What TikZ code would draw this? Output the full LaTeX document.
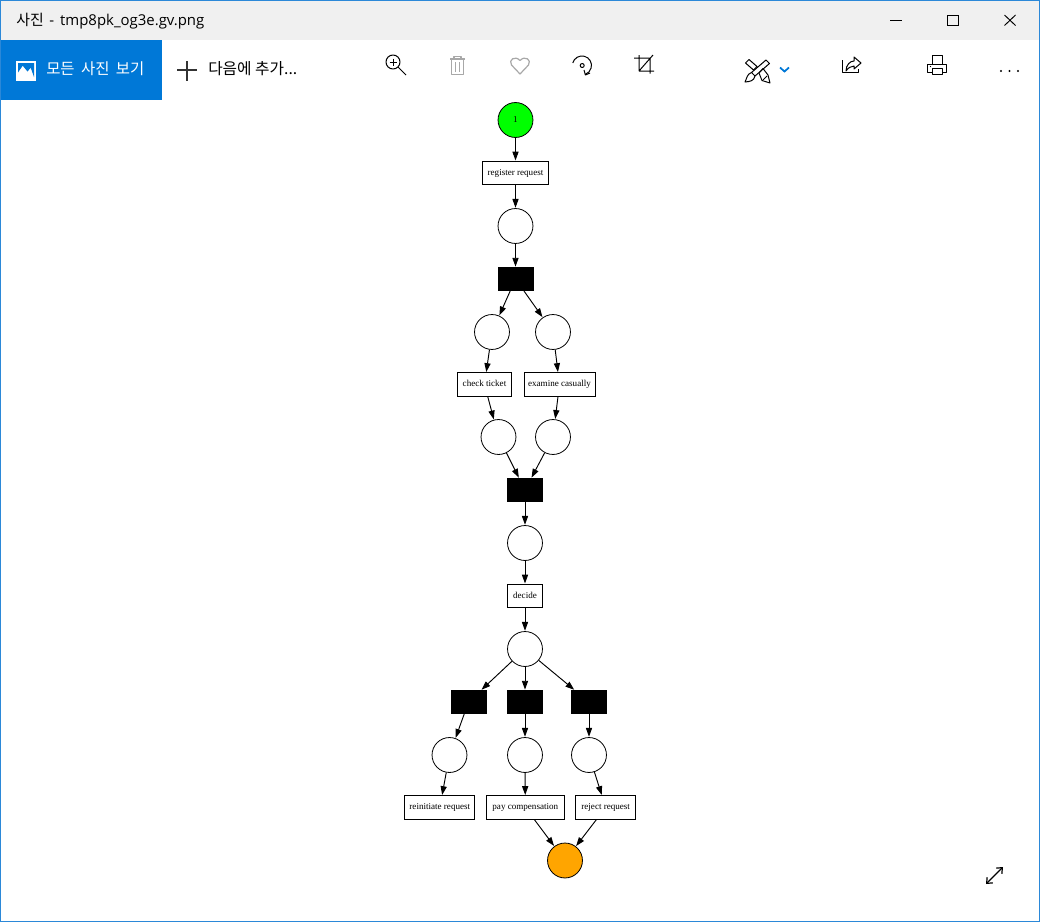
\documentclass[tikz,border=0pt]{standalone}
\usepackage{fontspec}
\setmainfont{Liberation Serif}
\newfontfamily\uifont{Open Sans}
\newfontfamily\cjk{Noto Sans CJK KR}
\usetikzlibrary{arrows.meta}
\definecolor{titlegray}{HTML}{F0F0F0}
\definecolor{winblue}{HTML}{2B88D8}
\definecolor{btnblue}{HTML}{0078D7}
\definecolor{placegreen}{HTML}{00FF00}
\definecolor{placeorange}{HTML}{FFA500}
\definecolor{icongray}{HTML}{A8A8A8}
\definecolor{chevblue}{HTML}{0078D7}
\tikzset{
  place/.style={circle,draw=black,line width=0.6pt,fill=white,minimum size=26.2pt,inner sep=0pt,font=\fontsize{6.8}{7}\selectfont},
  task/.style={rectangle,draw=black,line width=0.6pt,fill=white,minimum height=17.6pt,inner sep=0pt,text height=5pt,text depth=2pt,font=\fontsize{6.8}{7}\selectfont},
  silent/.style={rectangle,draw=black,fill=black,minimum width=26.2pt,minimum height=17.6pt,inner sep=0pt},
  arc/.style={draw=black,line width=0.7pt,-{Triangle[length=6.6pt,width=4.6pt]},shorten >=0.3pt},
  icon/.style={draw=black,line width=0.75pt,line join=round},
  greyicon/.style={draw=icongray,line width=0.9pt,line join=round},
  uitext/.style={anchor=west,inner sep=0pt},
}
\begin{document}
\begin{tikzpicture}[x=0.75pt,y=-0.75pt]
\useasboundingbox (0,0) rectangle (1040,922);
\fill[white] (0,0) rectangle (1040,922);
% chrome
\fill[titlegray] (0,0) rectangle (1040,40);
\fill[btnblue] (0,40) rectangle (162,100);
\node[uitext,font=\fontsize{11.2}{13}\selectfont] (title) at (16,21) {{\cjk 사진}\hspace{1.5pt} \uifont -\hspace{1.5pt} tmp8pk\_og3e.gv.png};
\node[uitext,text=white,font=\cjk\fontsize{11.6}{13}\selectfont] (allphotos) at (46,69) {모든\hspace{2.2pt} 사진\hspace{2.2pt} 보기};
\node[uitext,font=\cjk\fontsize{11.8}{13}\selectfont] (addto) at (208,69) {다음에 추가...};
% photo icon
\fill[white] (16,61) rectangle (36,81);
\fill[btnblue] (18,63) -- (34,63) -- (34,77) -- (30.7,67.7) -- (27.5,71.5) -- (22.7,65.7) -- (18,72.5) -- cycle;
% plus
\draw[draw=black!80,line width=1.1pt] (177,70) -- (197,70) (187,61) -- (187,81);
% zoom
\draw[icon] (393,62) circle (7);
\draw[icon] (398,67) -- (406,75);
\draw[icon] (389.5,62) -- (396.5,62) (393,58.5) -- (393,65.5);
% trash
\draw[greyicon] (450,59) -- (465,59) (454,59) -- (454,56.5) -- (461,56.5) -- (461,59);
\draw[greyicon] (451.5,59) -- (451.5,74.5) -- (463.5,74.5) -- (463.5,59);
\draw[greyicon] (455.5,62) -- (455.5,72) (459.5,62) -- (459.5,72);
% heart
\draw[greyicon] (520,74) -- (511.5,65) .. controls (508,60) and (515,55) .. (520,60.5) .. controls (525,55) and (532,60) .. (528.5,65) -- cycle;
% rotate
\draw[icon] (572.8,63) arc (195:430:9.5);
\draw[icon] (584,70) -- (585.4,75) -- (590,73);
\draw[icon] (582.2,65.5) circle (2);
% crop
\draw[icon] (634,58) -- (650,58) -- (650,73.5) (639,55) -- (639,71) -- (654,71) (639,71) -- (653,55);
% pens
\draw[icon] (766,60) -- (769.5,63.5) -- (755,76) -- (751.5,72.5) -- cycle;
\draw[icon] (751.5,72.5) .. controls (747,74) and (747,78) .. (745,82) .. controls (750,81.5) and (754,81) .. (755,76);
\draw[icon] (745.5,63) -- (749,59.5) -- (757,66.5) -- (753.5,70) -- cycle;
\draw[icon] (759.5,72.5) -- (763,68.5) -- (768,75) -- (770,83) -- (762,80.5) -- (759,73);
\draw[icon] (763,80) -- (767,76);
\draw[draw=chevblue,line width=1.3pt] (780,67.5) -- (784.5,71.5) -- (789,67.5);
% share
\draw[icon] (842.5,60) -- (842.5,72) -- (858,72) -- (858,69);
\draw[icon] (846,71) .. controls (846,65) and (850,61) .. (854,61) -- (854,57) -- (861,63) -- (854,69) -- (854,66) .. controls (851,66) and (848,68) .. (846,71) -- cycle;
% printer
\draw[icon] (932,64) -- (932,55.5) -- (942,55.5) -- (942,64);
\draw[icon] (932,72) -- (927.5,72) -- (927.5,64) -- (946.5,64) -- (946.5,72) -- (942,72);
\draw[icon] (932,68.5) rectangle (942,74.5);
\fill[black] (930.5,66.5) circle (0.6);
% dots
\fill[black] (1001,71) circle (1.2) (1009.5,71) circle (1.2) (1018,71) circle (1.2);
% window buttons
\draw[draw=black,line width=0.7pt] (890,20.5) -- (902,20.5);
\draw[draw=black,line width=0.7pt] (947.5,15) rectangle (958.5,25.5);
\draw[draw=black,line width=0.7pt] (1004.5,15) -- (1015.5,25.5) (1015.5,15) -- (1004.5,25.5);
% expand
\draw[draw=black,line width=0.9pt,{Straight Barb[length=3.5pt,width=6pt]}-{Straight Barb[length=3.5pt,width=6pt]}] (986,884) -- (1003,867);
% net
\node[place,fill=placegreen] (p1) at (515.5,120) {1};
\node[task,minimum width=50pt] (t1) at (515.5,173) {register request};
\node[place] (p2) at (515.5,226) {};
\node[silent] (s1) at (515.5,279) {};
\node[place] (p3) at (492,332) {};
\node[place] (p4) at (553,332) {};
\node[task,minimum width=40.6pt] (t2) at (484.5,384.5) {check ticket};
\node[task,minimum width=53.4pt] (t3) at (559.5,384.5) {examine casually};
\node[place] (p5) at (498.5,437) {};
\node[place] (p6) at (553,437) {};
\node[silent] (s2) at (525,490) {};
\node[place] (p7) at (525,543) {};
\node[task,minimum width=26.2pt] (t4) at (525,596) {decide};
\node[place] (p8) at (525,649) {};
\node[silent] (s3) at (468.5,702) {};
\node[silent] (s4) at (525,702) {};
\node[silent] (s5) at (589,702) {};
\node[place] (p9) at (449.5,755) {};
\node[place] (p10) at (525,755) {};
\node[place] (p11) at (589,755) {};
\node[task,minimum width=52.6pt] (t5) at (439.8,807.5) {reinitiate request};
\node[task,minimum width=58.4pt] (t6) at (525.3,807.5) {pay compensation};
\node[task,minimum width=44.8pt] (t7) at (605.7,807.5) {reject request};
\node[place,fill=placeorange] (p12) at (565,860.5) {};
\draw[arc] (p1) -- (t1);
\draw[arc] (t1) -- (p2);
\draw[arc] (p2) -- (s1);
\draw[arc] (s1) -- (p3);
\draw[arc] (s1) -- (p4);
\draw[arc] (p3) -- (t2);
\draw[arc] (p4) -- (t3);
\draw[arc] (t2) -- (p5);
\draw[arc] (t3) -- (p6);
\draw[arc] (p5) -- (s2);
\draw[arc] (p6) -- (s2);
\draw[arc] (s2) -- (p7);
\draw[arc] (p7) -- (t4);
\draw[arc] (t4) -- (p8);
\draw[arc] (p8) -- (s3);
\draw[arc] (p8) -- (s4);
\draw[arc] (p8) -- (s5);
\draw[arc] (s3) -- (p9);
\draw[arc] (s4) -- (p10);
\draw[arc] (s5) -- (p11);
\draw[arc] (p9) -- (t5);
\draw[arc] (p10) -- (t6);
\draw[arc] (p11) -- (t7);
\draw[arc] (t6) -- (p12);
\draw[arc] (t7) -- (p12);
% window border
\draw[draw=winblue,line width=0.75pt] (0.5,0.5) rectangle (1039.5,921.5);
\end{tikzpicture}
\end{document}
